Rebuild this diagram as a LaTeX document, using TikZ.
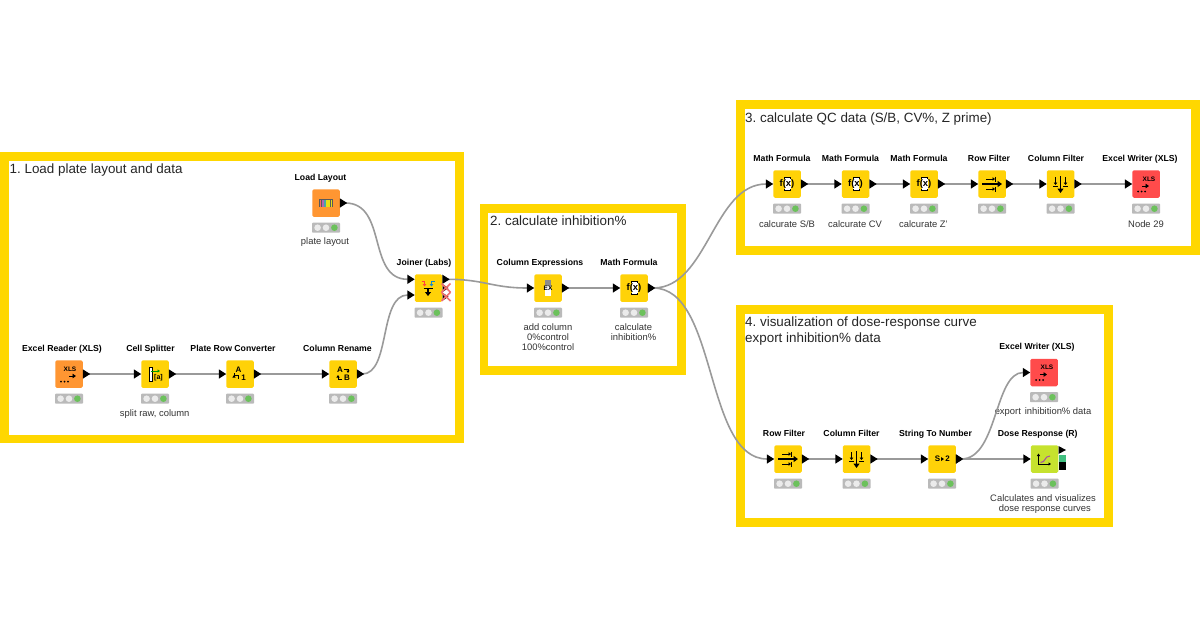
\documentclass[tikz,border=0pt]{standalone}
\usepackage{fontspec}
\setmainfont{Liberation Sans}
\usetikzlibrary{arrows.meta}
\definecolor{frameyellow}{HTML}{FFD700}
\definecolor{nodeyellow}{HTML}{FFD208}
\definecolor{nodeorange}{HTML}{FF9632}
\definecolor{nodered}{HTML}{FF4B4B}
\definecolor{nodelime}{HTML}{C6E22E}
\definecolor{wiregray}{HTML}{9A9A9A}
\definecolor{lightgreen}{HTML}{6CC15C}
\definecolor{portgreen}{HTML}{40C080}
\definecolor{crossred}{HTML}{F07070}
\begin{document}
\frenchspacing
\begin{tikzpicture}[x=1pt,y=-1pt,
        frame/.style={draw=frameyellow,line width=8.6pt,fill=white},
        heading/.style={anchor=west,inner sep=0pt,font=\fontsize{13.4}{16}\selectfont,align=left,text=black!85},
        box/.style={rounded corners=1.5pt,minimum size=27.5pt,inner sep=0pt,outer sep=0pt},
        title/.style={inner sep=0pt,font=\fontsize{8.7}{10}\selectfont\bfseries},
        caption/.style={inner sep=0pt,font=\fontsize{9.4}{10.2}\selectfont,align=center,text=black!80},
        wire/.style={draw=wiregray,line width=1.6pt,{Triangle[reversed,length=7.5pt,width=9pt,black]}-{Triangle[length=7.5pt,width=9pt,black]}},
        glyph/.style={inner sep=0pt,font=\fontsize{#1}{#1}\selectfont\bfseries},
        thin arrow/.style={line width=.8pt,-{Triangle[length=2.5pt,width=3.5pt]}},
        lights/.pic={
            \fill[black!27,rounded corners=.8pt] (-14,19.7) rectangle (14,29.7);
            \fill[black!8] (-8.4,24.7) circle (3.3) (0,24.7) circle (3.3);
            \fill[lightgreen] (8.4,24.7) circle (3.3);
        },
        mathicon/.pic={
            \fill[white] (-2.2,-6.5) rectangle (3.8,6.5);
            \draw[line width=.8pt] (-2.2,-4.8) |- (3.8,-6.5) -- (3.8,-4.8) (-2.2,4.8) |- (3.8,6.5) -- (3.8,4.8);
            \node[glyph=9.5] at (0,0) {f(x)};
        },
        rowicon/.pic={
            \draw[line width=1.3pt,-{Triangle[length=4.5pt,width=6pt]}] (-10,0) -- (10,0);
            \draw[thin arrow] (-6,-5) -- (3,-5);
            \draw[thin arrow] (-6,5) -- (3,5);
            \draw[line width=.8pt] (3.6,-7.5) -- (3.6,-2.5) (3.6,2.5) -- (3.6,7.5);
        },
        colicon/.pic={
            \draw[line width=1.3pt,-{Triangle[length=4.5pt,width=6pt]}] (0,-8) -- (0,9);
            \draw[thin arrow] (-5,-7) -- (-5,1);
            \draw[thin arrow] (5,-7) -- (5,1);
            \draw[line width=.8pt] (-7.5,2) -- (-2.5,2) (2.5,2) -- (7.5,2);
        },
        xlsicon/.pic={
            \node[glyph=6.5] at (1,-5) {XLS};
            \draw[line width=1pt,-{Triangle[length=3.5pt,width=4.5pt]}] (0,2) -- (7,2);
            \fill (-8,7.5) circle (1) (-4.5,7.5) circle (1) (-1,7.5) circle (1);
        },
        xlswicon/.pic={
            \node[glyph=6.5] at (3,-5) {XLS};
            \draw[line width=1pt,-{Triangle[length=3.5pt,width=4.5pt]}] (-4,2) -- (3,2);
            \fill (-8,7.5) circle (1) (-4.5,7.5) circle (1) (-1,7.5) circle (1);
        }]

        \useasboundingbox (0,0) rectangle (1200,630);
        \fill[white] (0,0) rectangle (1200,630);

        % the four yellow frames
        \draw[frame] (4.3,156.5) rectangle (459.5,439);
        \draw[frame] (484,208.5) rectangle (681.7,370.7);
        \draw[frame] (740.5,104.5) rectangle (1195.7,250.7);
        \draw[frame] (740.5,309.5) rectangle (1108.7,522.7);

        \node[heading] (head1) at (9.5,170) {1. Load plate layout and data};
        \node[heading] (head2) at (490,221) {2. calculate inhibition\%};
        \node[heading] (head3) at (745,119) {3. calculate QC data (S/B, CV\%, Z prime)};
        \node[heading] (head4) at (745,331) {4. visualization of dose-response curve\\export inhibition\% data};

        % workflow nodes: box, title above and status lights below
        \foreach \name/\x/\y/\tx/\col/\ttl in {
                xlsread/69/374/62/nodeorange/Excel Reader (XLS),
                splitter/155/374/150.5/nodeyellow/Cell Splitter,
                rowconv/240/374/233/nodeyellow/Plate Row Converter,
                rename/343/374/337.5/nodeyellow/Column Rename,
                layout/326/203/320.5/nodeorange/Load Layout,
                joiner/428.5/288/424/nodeyellow/Joiner (Labs),
                colexpr/548/288/540/nodeyellow/Column Expressions,
                inhib/634/288/629/nodeyellow/Math Formula,
                sb/787/184/782/nodeyellow/Math Formula,
                cv/855.5/184/850.5/nodeyellow/Math Formula,
                zp/924/184/919/nodeyellow/Math Formula,
                qcrow/992/184/989/nodeyellow/Row Filter,
                qccol/1060.5/184/1056/nodeyellow/Column Filter,
                qcxls/1146/184/1140/nodered/Excel Writer (XLS),
                dorow/788/459/784/nodeyellow/Row Filter,
                docol/856.5/459/851.5/nodeyellow/Column Filter,
                strnum/942/459/935.5/nodeyellow/String To Number,
                doxls/1044/372.5/1037/nodered/Excel Writer (XLS),
                dose/1044.5/459/1037.7/nodelime/Dose Response (R)} {
            \node[box,fill=\col] (\name) at (\x,\y) {};
            \node[title] (\name-title) at (\tx,\y-25.2) {\ttl};
            \pic at (\x,\y) {lights};
        }

        % captions
        \node[caption] (cap-layout) at (325,242.5) {plate layout};
        \node[caption] (cap-splitter) at (154.7,413.7) {split raw, column};
        \node[caption,anchor=north] (cap-colexpr) at (548,323.5) {add column\\0\%control\\100\%control};
        \node[caption,anchor=north] (cap-inhib) at (633.5,323.5) {calculate\\inhibition\%};
        \node[caption] (cap-sb) at (787,223.7) {calcurate S/B};
        \node[caption] (cap-cv) at (855,223.7) {calcurate CV};
        \node[caption] (cap-zp) at (923.5,223.7) {calcurate Z'};
        \node[caption] (cap-qcxls) at (1146,223.7) {Node 29};
        \node[caption] (cap-doxls) at (1043,411.7) {export\hspace{.15em} inhibition\% data};
        \node[caption,anchor=north] (cap-dose) at (1043,494) {Calculates and visualizes\\\hspace{.4em}dose response curves};

        % connectors
        \draw[wire] (xlsread.east) -- (splitter.west);
        \draw[wire] (splitter.east) -- (rowconv.west);
        \draw[wire] (rowconv.east) -- (rename.west);
        \draw[wire] (rename.east) .. controls +(34,0) and +(-36,0) .. ([yshift=-7pt]joiner.west);
        \draw[wire] (layout.east) .. controls +(48,0) and +(-48,0) .. ([yshift=8.7pt]joiner.west);
        \draw[wire] ([yshift=8.7pt]joiner.east) .. controls +(42,0) and +(-42,0) .. (colexpr.west);
        \draw[wire] (colexpr.east) -- (inhib.west);
        \draw[wire] (inhib.east) .. controls +(60,0) and +(-60,0) .. (sb.west);
        \draw[wire] (inhib.east) .. controls +(70,0) and +(-70,0) .. (dorow.west);
        \draw[wire] (sb.east) -- (cv.west);
        \draw[wire] (cv.east) -- (zp.west);
        \draw[wire] (zp.east) -- (qcrow.west);
        \draw[wire] (qcrow.east) -- (qccol.west);
        \draw[wire] (qccol.east) -- (qcxls.west);
        \draw[wire] (dorow.east) -- (docol.west);
        \draw[wire] (docol.east) -- (strnum.west);
        \draw[wire] (strnum.east) .. controls +(42,0) and +(-36,0) .. (doxls.west);
        \draw[wire] (strnum.east) -- (dose.west);

        % icons
        \pic at (xlsread) {xlsicon};
        \pic at (qcxls) {xlswicon};
        \pic at (doxls) {xlswicon};
        \foreach \name in {inhib,sb,cv,zp} { \pic at (\name) {mathicon}; }
        \foreach \name in {qcrow,dorow} { \pic at (\name) {rowicon}; }
        \foreach \name in {qccol,docol} { \pic at (\name) {colicon}; }

        % Load Layout: little coloured table
        \begin{scope}[shift={(layout.center)}]
            \fill[black!65] (-7,-4) rectangle (7,4);
            \foreach \i/\c in {0/red!60,1/violet!60,2/teal!70,3/yellow!90!black,4/yellow!90!black,5/yellow!90!black} {
                \fill[\c] (-6.5+\i*2.2,-3.5) rectangle +(1.8,7);
            }
        \end{scope}

        % Cell Splitter
        \begin{scope}[shift={(splitter.center)}]
            \draw[line width=.9pt,fill=white] (-6,-7) rectangle (-3,7);
            \node[glyph=7] (split-a) at (3.5,3.5) {[a]};
            \draw[green!60!black,line width=.8pt,-{Triangle[length=2.5pt,width=3pt]}] (-4,-3) -- (5,-3);
        \end{scope}

        % Plate Row Converter
        \begin{scope}[shift={(rowconv.center)}]
            \node[glyph=8] (conv-a) at (-1.5,-4) {A};
            \node[glyph=8] (conv-1) at (3.5,3.5) {1};
            \draw[line width=.8pt,-{Triangle[length=2.5pt,width=3pt]}] (-2,4.5) -- (-2,1) -| (-6,1);
        \end{scope}

        % Column Rename
        \begin{scope}[shift={(rename.center)}]
            \node[glyph=8] (ren-a) at (-3,-4.5) {A};
            \node[glyph=8] (ren-b) at (4,4) {B};
            \draw[line width=.8pt,-{Triangle[length=2.5pt,width=3pt]}] (1,-5) -- (5,-5) -- (5,-1);
            \draw[line width=.8pt,-{Triangle[length=2.5pt,width=3pt]}] (-1,5) -- (-5,5) -- (-5,1);
        \end{scope}

        % Joiner
        \begin{scope}[shift={(joiner.center)}]
            \draw[red!75,line width=.9pt,-{Triangle[length=2.5pt,width=3.5pt]}] (-7,-7) -- (-4,-7) -- (-4,-1.5);
            \draw[cyan!70!blue,line width=.9pt,-{Triangle[length=2.5pt,width=3.5pt]}] (6,-7) -- (3,-7) -- (3,-1.5);
            \draw[line width=1.2pt,-{Triangle[length=4pt,width=6pt]}] (-.5,.5) -- (-.5,8);
            \draw[line width=1.2pt] (-5,.5) -- (4,.5);
            % crossed out ports
            \fill (14,-4) -- (20,0) -- (14,4) -- cycle;
            \fill (14,4.7) -- (20,8.7) -- (14,12.7) -- cycle;
            \draw[crossred,line width=1.6pt] (13,-4.5) -- (22,4.2) (13,4.2) -- (22,-4.5)
                (13,4.2) -- (22,13) (13,13) -- (22,4.2);
        \end{scope}

        % Column Expressions
        \begin{scope}[shift={(colexpr.center)}]
            \fill[black!45] (-3,-8) rectangle (3,-2);
            \fill[white] (-3,-2) rectangle (3,8);
            \node[glyph=6.5] (ex-text) at (0,0) {EX};
        \end{scope}

        % String To Number
        \node[glyph=8] (num-s) at ([xshift=-4.5pt]strnum.center) {S};
        \fill ([xshift=-1pt,yshift=2pt]strnum.center) -- ([xshift=-1pt,yshift=-2pt]strnum.center) -- ([xshift=2pt]strnum.center) -- cycle;
        \node[glyph=8] (num-2) at ([xshift=5.5pt]strnum.center) {2};

        % Dose Response
        \begin{scope}[shift={(dose.center)}]
            \draw[line width=.9pt,{Triangle[length=2.5pt,width=3pt]}-{Triangle[length=2.5pt,width=3pt]}] (-6,-5.5) -- (-6,5) -- (6.5,5);
            \draw[violet!70,line width=1pt] (-4,3.5) .. controls (1.5,3.5) and (-.5,-3) .. (5.5,-3);
            \fill (14,-13) -- (21.5,-9) -- (14,-5) -- cycle;
            \fill[portgreen] (14,-4) rectangle (21.5,3.3);
            \fill (14,3.3) rectangle (21.5,11);
        \end{scope}
\end{tikzpicture}
\end{document}
